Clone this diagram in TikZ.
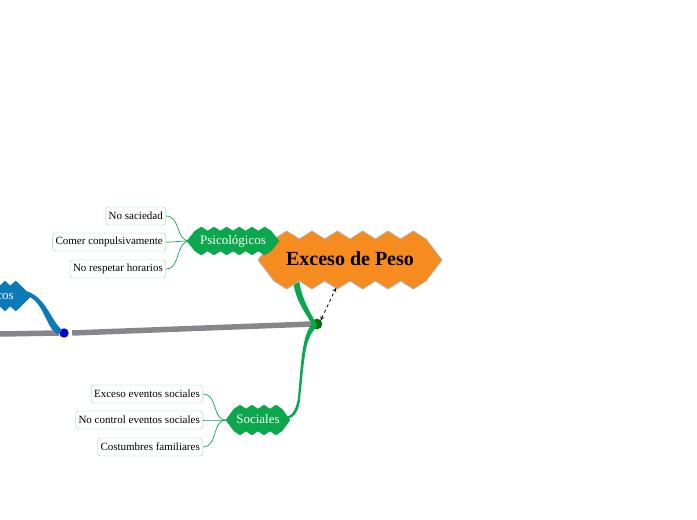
\documentclass[tikz,border=0pt]{standalone}
\usepackage{fontspec}
\setmainfont{Liberation Serif}
\definecolor{orng}{HTML}{F68B1F}
\definecolor{grn}{HTML}{0BA74C}
\definecolor{leafb}{HTML}{8FD9B3}
\definecolor{blu}{HTML}{0C79B9}
\definecolor{gry}{HTML}{87878B}
\tikzset{
 leaf/.style={draw=leafb,fill=white,rounded corners=3pt,font=\fontsize{11}{13}\selectfont,inner sep=3pt,minimum height=18pt,anchor=east},
 lk/.style={draw=grn,line width=0.7pt},
 hub/.style={text=white,font=\fontsize{13}{15}\selectfont},
}
\newcommand{\zig}[7]{% cx cy w h nx d style
 \pgfmathsetmacro{\dx}{2*#3/#5}
 \filldraw[#7] (#1-#3,#2-#4) \foreach \i in {1,...,#5}{ -- ++(\dx/2,-#6) -- ++(\dx/2,#6)}
  -- ++(2*#6,#4) -- ++(-2*#6,#4)
  \foreach \i in {1,...,#5}{ -- ++(-\dx/2,#6) -- ++(-\dx/2,-#6)}
  -- ++(-2*#6,-#4) -- cycle;}
\begin{document}
\begin{tikzpicture}[x=1pt,y=-1pt]
\useasboundingbox (0,0) rectangle (697,520);
\coordinate (gl) at (0,334);
\node[circle,fill=blue!85!black,draw=white,inner sep=0,minimum size=10pt] (bd) at (64,333) {};
\node[circle,fill=green!45!black,draw=green!30!black,inner sep=0,minimum size=10pt] (gd) at (317,324) {};
\draw[gry,line width=5.5pt] (gl) -- (bd.west);
\draw[gry,line width=5.5pt] (bd.east) ++(3,0) -- (gd.west);
\fill[blu] (20,294) .. controls (45,296) and (45,330) .. (58,334) -- (62,330) .. controls (50,320) and (45,292) .. (20,290) -- cycle;
\zig{5}{296}{16}{10}{3}{5}{blu}
\node[hub] (bl) at (5,296) {cos};
\fill[grn] (299,280) .. controls (303,305) and (313,315) .. (317,326) -- (313,326) .. controls (305,312) and (295,300) .. (293,280) -- cycle;
\fill[grn] (317,326) .. controls (305,340) and (305,350) .. (300,400) .. controls (298,415) and (292,418) .. (286,419) -- (286,417) .. controls (292,416) and (296,410) .. (298,398) .. controls (302,350) and (303,335) .. (313,322) -- cycle;
\zig{350}{260}{76}{21}{6}{8}{fill=orng,draw=gray!60,line width=0.8pt}
\node[font=\bfseries\fontsize{20}{23}\selectfont] (main) at (350,259) {Exceso de Peso};
\draw[dashed,<->,>=stealth,thick] (gd.north east) -- (336,288);
\zig{233}{241}{38}{10}{6}{4}{grn}
\node[hub] (ps) at (233,241) {Psicológicos};
\node[leaf] (p1) at (166,216) {No saciedad};
\node[leaf] (p2) at (166,242) {Comer conpulsivamente};
\node[leaf] (p3) at (166,269) {No respetar horarios};
\foreach \n in {p1,p2,p3}{\draw[lk] (\n.east) .. controls +(15,0) and (175,241) .. (190,241);}
\zig{258}{420}{24}{11}{4}{4}{grn}
\node[hub] (so) at (258,419) {Sociales};
\node[leaf] (s1) at (203,394) {Exceso eventos sociales};
\node[leaf] (s2) at (203,420) {No control eventos sociales};
\node[leaf] (s3) at (203,447) {Costumbres familiares};
\foreach \n in {s1,s2,s3}{\draw[lk] (\n.east) .. controls +(15,0) and (212,420) .. (226,420);}
\end{tikzpicture}
\end{document}
